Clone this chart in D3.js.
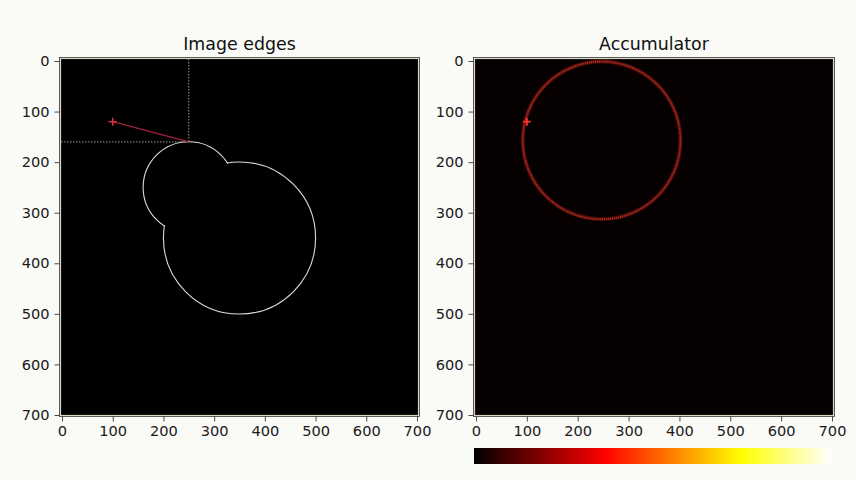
<!DOCTYPE html>
<html><head><meta charset="utf-8">
<script src="https://cdn.jsdelivr.net/npm/d3@7"></script>
<style>
html,body{margin:0;padding:0;background:#fafaf7;}
svg{display:block;font-family:"DejaVu Sans",sans-serif;}
</style></head>
<body><svg id="c" width="856" height="480"></svg>
<script>
// ---- data ----
const panelTitles = ["Image edges", "Accumulator"];
const xTicks = [0,100,200,300,400,500,600,700];
const yTicks = [0,100,200,300,400,500,600,700];
const edgeCx = [250, 350];
const edgeCy = [250, 350];
const edgeR  = [90, 150];
const markerPoint = [100, 120];
const edgePoint = [250, 160];
const accumCenter = [247, 157];
const accumRadius = 155;
const hotStops = [0, 0.365, 0.746, 1];
const hotColors = ["#000000", "#ff0000", "#ffff00", "#ffffff"];

const svg = d3.select("#c");
const defs = svg.append("defs");

const panels = [
  {x0: 62, x1: 417, y0: 61, y1: 415, bg: "#000000"},
  {x0: 476, x1: 832, y0: 61, y1: 415, bg: "#070000"}
];

panels.forEach((p, i) => {
  const x = d3.scaleLinear().domain([0, 700]).range([p.x0, p.x1]);
  const y = d3.scaleLinear().domain([0, 700]).range([p.y0, p.y1]);
  p.x = x; p.y = y;
  const g = svg.append("g");
  g.append("rect").attr("x", p.x0 - 1).attr("y", p.y0 - 2)
    .attr("width", p.x1 - p.x0 + 2).attr("height", p.y1 - p.y0 + 2)
    .attr("fill", p.bg);
  const cid = "clip" + i;
  defs.append("clipPath").attr("id", cid).append("rect")
    .attr("x", p.x0 - 1).attr("y", p.y0 - 2)
    .attr("width", p.x1 - p.x0 + 2).attr("height", p.y1 - p.y0 + 2);
  const inner = g.append("g").attr("clip-path", `url(#${cid})`);
  p.inner = inner;
  g.append("rect").attr("x", p.x0 - 1.5).attr("y", p.y0 - 2.5)
    .attr("width", p.x1 - p.x0 + 3).attr("height", p.y1 - p.y0 + 3)
    .attr("fill", "none").attr("stroke", "#d9d6c4").attr("stroke-width", 1.2);
  g.append("rect").attr("x", p.x0 - 2.5).attr("y", p.y0 - 3.5)
    .attr("width", p.x1 - p.x0 + 5).attr("height", p.y1 - p.y0 + 5)
    .attr("fill", "none").attr("stroke", "#333").attr("stroke-width", 0.8);
  const ax = g.append("g").attr("transform", `translate(0,${p.y1 + 1.5})`)
    .call(d3.axisBottom(x).tickValues(xTicks).tickSize(5).tickPadding(4.5).tickSizeOuter(0));
  const ay = g.append("g").attr("transform", `translate(${p.x0 - 2.5},0)`)
    .call(d3.axisLeft(y).tickValues(yTicks).tickSize(5).tickPadding(5).tickSizeOuter(0));
  [ax, ay].forEach(a => {
    a.select(".domain").remove();
    a.selectAll("text").attr("font-size", "14.6px").attr("fill", "#1a1a1a")
      .attr("font-family", "DejaVu Sans, sans-serif");
    a.selectAll("line").attr("stroke", "#333").attr("stroke-width", 0.9);
  });
  g.append("text").attr("x", (p.x0 + p.x1) / 2).attr("y", 50)
    .attr("text-anchor", "middle").attr("font-size", "17.4px").attr("fill", "#111")
    .text(panelTitles[i]);
});

// ---- left panel: edge outline (union of two circles) ----
{
  const p = panels[0], x = p.x, y = p.y, k = x(1) - x(0);
  edgeCx.forEach((cx, i) => {
    const j = 1 - i;
    const mid = "mask" + i;
    const m = defs.append("mask").attr("id", mid).attr("maskUnits", "userSpaceOnUse")
      .attr("x", 0).attr("y", 0).attr("width", 856).attr("height", 480);
    m.append("rect").attr("width", 856).attr("height", 480).attr("fill", "white");
    m.append("circle").attr("cx", x(edgeCx[j])).attr("cy", y(edgeCy[j]))
      .attr("r", edgeR[j] * k - 0.5).attr("fill", "black");
    p.inner.append("circle").attr("cx", x(cx)).attr("cy", y(edgeCy[i]))
      .attr("r", edgeR[i] * k).attr("fill", "none")
      .attr("stroke", "#dcdcd2").attr("stroke-width", 1.1)
      .attr("mask", `url(#${mid})`);
  });
  p.inner.append("line").attr("x1", x(edgePoint[0])).attr("x2", x(edgePoint[0]))
    .attr("y1", y(0) - 2).attr("y2", y(edgePoint[1]))
    .attr("stroke", "#9a9a9a").attr("stroke-width", 1).attr("stroke-dasharray", "1.5,1.5");
  p.inner.append("line").attr("x1", x(0) - 1).attr("x2", x(edgePoint[0]))
    .attr("y1", y(edgePoint[1])).attr("y2", y(edgePoint[1]))
    .attr("stroke", "#9a9a9a").attr("stroke-width", 1).attr("stroke-dasharray", "1.5,1.5");
  p.inner.append("line").attr("x1", x(markerPoint[0])).attr("y1", y(markerPoint[1]))
    .attr("x2", x(edgePoint[0])).attr("y2", y(edgePoint[1]))
    .attr("stroke", "#a8203a").attr("stroke-width", 1.2);
  const mx = x(markerPoint[0]), my = y(markerPoint[1]);
  p.inner.append("path").attr("d", `M${mx - 4},${my}H${mx + 4}M${mx},${my - 4}V${my + 4}`)
    .attr("stroke", "#d83040").attr("stroke-width", 1.6);
}

// ---- right panel: accumulator ring ----
{
  const p = panels[1], x = p.x, y = p.y, k = x(1) - x(0);
  const cx = x(accumCenter[0]), cy = y(accumCenter[1]), r = accumRadius * k;
  p.inner.append("circle").attr("cx", cx).attr("cy", cy).attr("r", r)
    .attr("fill", "none").attr("stroke", "#4a0a06").attr("stroke-width", 4);
  p.inner.append("circle").attr("cx", cx).attr("cy", cy).attr("r", r)
    .attr("fill", "none").attr("stroke", "#b03028").attr("stroke-width", 1.8)
    .attr("stroke-dasharray", "1.2,0.8");
  const mx = x(markerPoint[0]), my = y(markerPoint[1]);
  p.inner.append("path").attr("d", `M${mx - 4},${my}H${mx + 4}M${mx},${my - 4}V${my + 4}`)
    .attr("stroke", "#ff3030").attr("stroke-width", 1.8);
}

// ---- colorbar ----
{
  const p = panels[1];
  const grad = defs.append("linearGradient").attr("id", "hot")
    .attr("x1", "0%").attr("x2", "100%").attr("y1", "0%").attr("y2", "0%");
  hotStops.forEach((s, i) => {
    grad.append("stop").attr("offset", s).attr("stop-color", hotColors[i]);
  });
  svg.append("rect").attr("x", p.x0 - 2).attr("y", 448)
    .attr("width", p.x1 - p.x0 + 2).attr("height", 16)
    .attr("fill", "url(#hot)");
}
</script></body></html>
